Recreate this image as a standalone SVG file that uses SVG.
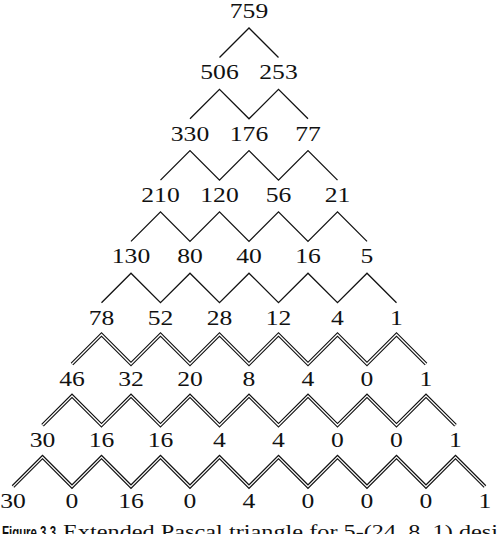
<svg xmlns="http://www.w3.org/2000/svg" width="500" height="534" viewBox="0 0 500 534">
<style>
.n{font-family:"Liberation Serif","Times New Roman",serif;font-size:21px;fill:#111;text-anchor:middle}
.s{fill:none;stroke:#111;stroke-width:1.3;stroke-linejoin:miter;stroke-miterlimit:10}
.d1{fill:none;stroke:#111;stroke-width:3.6;stroke-linejoin:miter;stroke-miterlimit:10}
.d2{fill:none;stroke:#fff;stroke-width:1.3;stroke-linejoin:miter;stroke-miterlimit:10}
.cap1{font-family:"Liberation Sans",Arial,sans-serif;font-weight:bold;font-size:17px;fill:#111}
.cap2{font-family:"Liberation Serif","Times New Roman",serif;font-size:19px;fill:#111}
</style>
<rect width="500" height="534" fill="#fff"/>
<g id="connectors">
<polyline class="s" points="219.5,57.5 249,28 278.5,57.5"/>
<polyline class="s" points="190,118.8 219.5,89.3 249,118.8 278.5,89.3 308,118.8"/>
<polyline class="s" points="160.5,180.1 190,150.6 219.5,180.1 249,150.6 278.5,180.1 308,150.6 337.5,180.1"/>
<polyline class="s" points="131,241.4 160.5,211.9 190,241.4 219.5,211.9 249,241.4 278.5,211.9 308,241.4 337.5,211.9 367,241.4"/>
<polyline class="s" points="101.5,302.7 131,273.2 160.5,302.7 190,273.2 219.5,302.7 249,273.2 278.5,302.7 308,273.2 337.5,302.7 367,273.2 396.5,302.7"/>
<g id="double1">
<polyline class="d1" points="72,364 101.5,334.5 131,364 160.5,334.5 190,364 219.5,334.5 249,364 278.5,334.5 308,364 337.5,334.5 367,364 396.5,334.5 426,364"/>
<polyline class="d2" points="72,364 101.5,334.5 131,364 160.5,334.5 190,364 219.5,334.5 249,364 278.5,334.5 308,364 337.5,334.5 367,364 396.5,334.5 426,364"/>
</g>
<g id="double2">
<polyline class="d1" points="42.5,425.3 72,395.8 101.5,425.3 131,395.8 160.5,425.3 190,395.8 219.5,425.3 249,395.8 278.5,425.3 308,395.8 337.5,425.3 367,395.8 396.5,425.3 426,395.8 455.5,425.3"/>
<polyline class="d2" points="42.5,425.3 72,395.8 101.5,425.3 131,395.8 160.5,425.3 190,395.8 219.5,425.3 249,395.8 278.5,425.3 308,395.8 337.5,425.3 367,395.8 396.5,425.3 426,395.8 455.5,425.3"/>
</g>
<g id="double3">
<polyline class="d1" points="13,486.6 42.5,457.1 72,486.6 101.5,457.1 131,486.6 160.5,457.1 190,486.6 219.5,457.1 249,486.6 278.5,457.1 308,486.6 337.5,457.1 367,486.6 396.5,457.1 426,486.6 455.5,457.1 485,486.6"/>
<polyline class="d2" points="13,486.6 42.5,457.1 72,486.6 101.5,457.1 131,486.6 160.5,457.1 190,486.6 219.5,457.1 249,486.6 278.5,457.1 308,486.6 337.5,457.1 367,486.6 396.5,457.1 426,486.6 455.5,457.1 485,486.6"/>
</g>
</g>
<g id="nodes">
<g id="n0-0"><text class="n" transform="translate(249,18) scale(1.22,1)">759</text></g>
<g id="n1-0"><text class="n" transform="translate(219.5,79.3) scale(1.22,1)">506</text></g>
<g id="n1-1"><text class="n" transform="translate(278.5,79.3) scale(1.22,1)">253</text></g>
<g id="n2-0"><text class="n" transform="translate(190,140.6) scale(1.22,1)">330</text></g>
<g id="n2-1"><text class="n" transform="translate(249,140.6) scale(1.22,1)">176</text></g>
<g id="n2-2"><text class="n" transform="translate(308,140.6) scale(1.22,1)">77</text></g>
<g id="n3-0"><text class="n" transform="translate(160.5,201.9) scale(1.22,1)">210</text></g>
<g id="n3-1"><text class="n" transform="translate(219.5,201.9) scale(1.22,1)">120</text></g>
<g id="n3-2"><text class="n" transform="translate(278.5,201.9) scale(1.22,1)">56</text></g>
<g id="n3-3"><text class="n" transform="translate(337.5,201.9) scale(1.22,1)">21</text></g>
<g id="n4-0"><text class="n" transform="translate(131,263.2) scale(1.22,1)">130</text></g>
<g id="n4-1"><text class="n" transform="translate(190,263.2) scale(1.22,1)">80</text></g>
<g id="n4-2"><text class="n" transform="translate(249,263.2) scale(1.22,1)">40</text></g>
<g id="n4-3"><text class="n" transform="translate(308,263.2) scale(1.22,1)">16</text></g>
<g id="n4-4"><text class="n" transform="translate(367,263.2) scale(1.22,1)">5</text></g>
<g id="n5-0"><text class="n" transform="translate(101.5,324.5) scale(1.22,1)">78</text></g>
<g id="n5-1"><text class="n" transform="translate(160.5,324.5) scale(1.22,1)">52</text></g>
<g id="n5-2"><text class="n" transform="translate(219.5,324.5) scale(1.22,1)">28</text></g>
<g id="n5-3"><text class="n" transform="translate(278.5,324.5) scale(1.22,1)">12</text></g>
<g id="n5-4"><text class="n" transform="translate(337.5,324.5) scale(1.22,1)">4</text></g>
<g id="n5-5"><text class="n" transform="translate(396.5,324.5) scale(1.22,1)">1</text></g>
<g id="n6-0"><text class="n" transform="translate(72,385.8) scale(1.22,1)">46</text></g>
<g id="n6-1"><text class="n" transform="translate(131,385.8) scale(1.22,1)">32</text></g>
<g id="n6-2"><text class="n" transform="translate(190,385.8) scale(1.22,1)">20</text></g>
<g id="n6-3"><text class="n" transform="translate(249,385.8) scale(1.22,1)">8</text></g>
<g id="n6-4"><text class="n" transform="translate(308,385.8) scale(1.22,1)">4</text></g>
<g id="n6-5"><text class="n" transform="translate(367,385.8) scale(1.22,1)">0</text></g>
<g id="n6-6"><text class="n" transform="translate(426,385.8) scale(1.22,1)">1</text></g>
<g id="n7-0"><text class="n" transform="translate(42.5,447.1) scale(1.22,1)">30</text></g>
<g id="n7-1"><text class="n" transform="translate(101.5,447.1) scale(1.22,1)">16</text></g>
<g id="n7-2"><text class="n" transform="translate(160.5,447.1) scale(1.22,1)">16</text></g>
<g id="n7-3"><text class="n" transform="translate(219.5,447.1) scale(1.22,1)">4</text></g>
<g id="n7-4"><text class="n" transform="translate(278.5,447.1) scale(1.22,1)">4</text></g>
<g id="n7-5"><text class="n" transform="translate(337.5,447.1) scale(1.22,1)">0</text></g>
<g id="n7-6"><text class="n" transform="translate(396.5,447.1) scale(1.22,1)">0</text></g>
<g id="n7-7"><text class="n" transform="translate(455.5,447.1) scale(1.22,1)">1</text></g>
<g id="n8-0"><text class="n" transform="translate(13,508.4) scale(1.22,1)">30</text></g>
<g id="n8-1"><text class="n" transform="translate(72,508.4) scale(1.22,1)">0</text></g>
<g id="n8-2"><text class="n" transform="translate(131,508.4) scale(1.22,1)">16</text></g>
<g id="n8-3"><text class="n" transform="translate(190,508.4) scale(1.22,1)">0</text></g>
<g id="n8-4"><text class="n" transform="translate(249,508.4) scale(1.22,1)">4</text></g>
<g id="n8-5"><text class="n" transform="translate(308,508.4) scale(1.22,1)">0</text></g>
<g id="n8-6"><text class="n" transform="translate(367,508.4) scale(1.22,1)">0</text></g>
<g id="n8-7"><text class="n" transform="translate(426,508.4) scale(1.22,1)">0</text></g>
<g id="n8-8"><text class="n" transform="translate(485,508.4) scale(1.22,1)">1</text></g>
</g>
<g id="caption">
<text class="cap1" x="2" y="538" textLength="54" lengthAdjust="spacingAndGlyphs">Figure 3.3</text>
<text class="cap2" x="63" y="538" textLength="435" lengthAdjust="spacingAndGlyphs">Extended Pascal triangle for 5-(24, 8, 1) desi</text>
</g>
</svg>
